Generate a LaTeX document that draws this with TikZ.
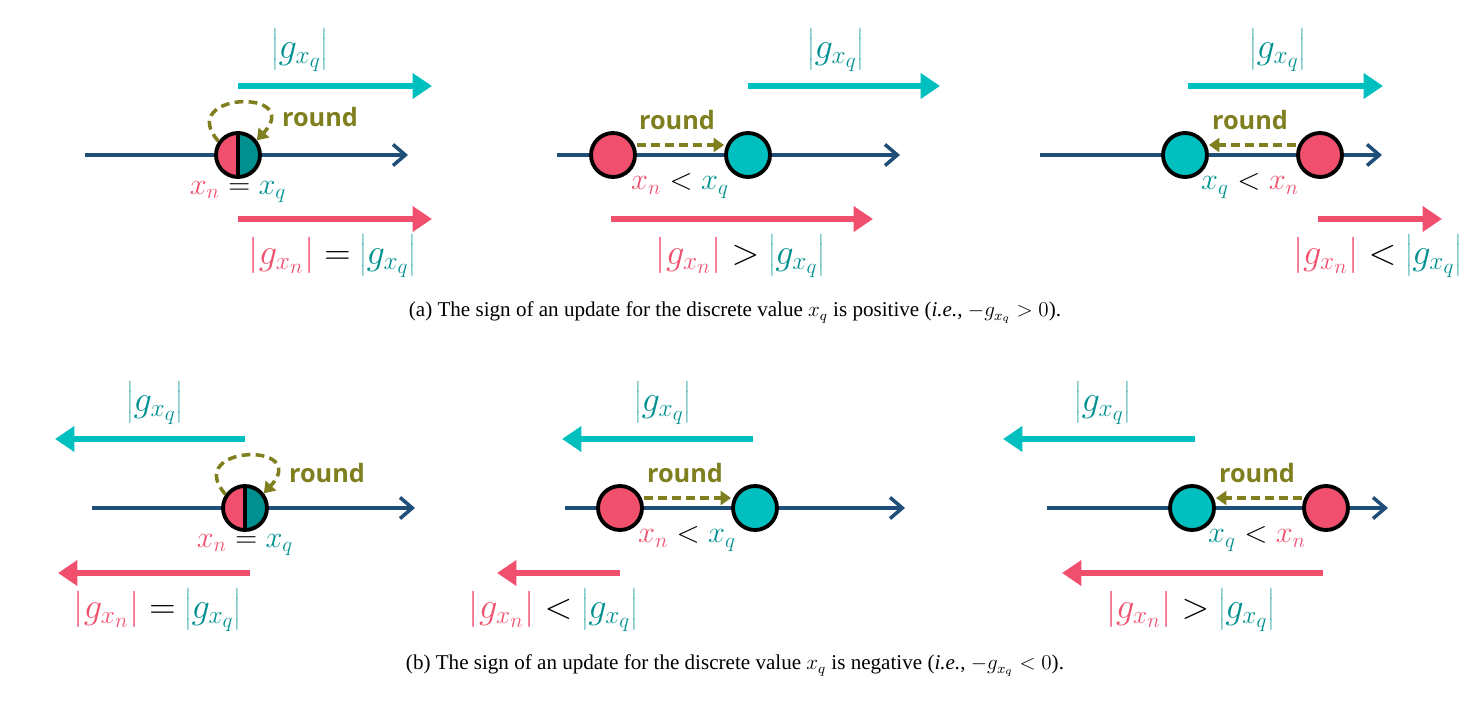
\documentclass[tikz,border=0pt]{standalone}
\usepackage{fontspec}
\setmainfont{Liberation Serif}
\newfontfamily\roundfont{Open Sans}
\usetikzlibrary{arrows.meta}
\definecolor{gred}{HTML}{F0506E}
\definecolor{gcyan}{HTML}{00BFBF}
\definecolor{gteal}{HTML}{009090}
\definecolor{gnavy}{HTML}{1F4E79}
\definecolor{golive}{HTML}{7F7F1F}
\begin{document}
\begin{tikzpicture}[x=0.02cm,y=-0.02cm,
  axis/.style={gnavy,line width=2pt,-{Straight Barb[length=7pt,width=12pt,line width=2pt]}},
  grad/.style={line width=3.4pt,-{Triangle[length=11pt,width=14pt]}},
  pt/.style={circle,draw=black,line width=2.2pt,minimum size=0.88cm,inner sep=0pt},
  redpt/.style={pt,fill=gred},
  cyanpt/.style={pt,fill=gcyan},
  halfpt/.style={pt,path picture={
      \fill[gred] (path picture bounding box.north west) rectangle (path picture bounding box.south);
      \fill[gteal] (path picture bounding box.north) rectangle (path picture bounding box.south east);
      \draw[black,line width=2pt] (path picture bounding box.north) -- (path picture bounding box.south);}},
  move/.style={golive,line width=2pt,dash pattern=on 5pt off 3pt,-{Triangle[length=6pt,width=8pt]}},
  rnd/.style={golive,font=\roundfont\bfseries\Large},
  mlab/.style={font=\LARGE},
  glab/.style={font=\huge}]
\useasboundingbox (0,0) rectangle (1473,709);

% (a) positive sign
\coordinate (a1l) at (85,155); \coordinate (a1r) at (408,155);
\draw[axis] (a1l) -- (a1r);
\node[halfpt] (a1p) at (238,155) {};
\draw[move] (a1p.145) .. controls (175,92) and (305,88) .. (a1p.38);
\node[rnd] (a1t) at (320,117) {round};
\node[mlab] (a1x) at (238,192) {$\color{gred}x_n\color{black}=\color{gteal}x_q$};
\coordinate (a1c0) at (238,86); \coordinate (a1c1) at (432,86);
\draw[grad,gcyan] (a1c0) -- (a1c1);
\node[glab] (a1g) at (300,50) {$\color{gteal}\left|g_{x_q}\right|$};
\coordinate (a1r0) at (238,219); \coordinate (a1r1) at (432,219);
\draw[grad,gred] (a1r0) -- (a1r1);
\node[glab] (a1h) at (332,256) {$\color{gred}\left|g_{x_n}\right|\color{black}=\color{gteal}\left|g_{x_q}\right|$};

\coordinate (a2l) at (557,155); \coordinate (a2r) at (900,155);
\draw[axis] (a2l) -- (a2r);
\node[redpt] (a2n) at (613,155) {};
\node[cyanpt] (a2q) at (748,155) {};
\draw[move] ([yshift=0.2cm]a2n.east) -- ([yshift=0.2cm]a2q.west);
\node[rnd] (a2t) at (677,120) {round};
\node[mlab] (a2x) at (680,186) {$\color{gred}x_n\color{black}<\color{gteal}x_q$};
\coordinate (a2c0) at (748,86); \coordinate (a2c1) at (940,86);
\draw[grad,gcyan] (a2c0) -- (a2c1);
\node[glab] (a2g) at (836,50) {$\color{gteal}\left|g_{x_q}\right|$};
\coordinate (a2r0) at (611,219); \coordinate (a2r1) at (873,219);
\draw[grad,gred] (a2r0) -- (a2r1);
\node[glab] (a2h) at (740,256) {$\color{gred}\left|g_{x_n}\right|\color{black}>\color{gteal}\left|g_{x_q}\right|$};

\coordinate (a3l) at (1040,155); \coordinate (a3r) at (1382,155);
\draw[axis] (a3l) -- (a3r);
\node[cyanpt] (a3q) at (1185,155) {};
\node[redpt] (a3n) at (1320,155) {};
\draw[move] ([yshift=0.2cm]a3n.west) -- ([yshift=0.2cm]a3q.east);
\node[rnd] (a3t) at (1250,120) {round};
\node[mlab] (a3x) at (1250,186) {$\color{gteal}x_q\color{black}<\color{gred}x_n$};
\coordinate (a3c0) at (1188,86); \coordinate (a3c1) at (1383,86);
\draw[grad,gcyan] (a3c0) -- (a3c1);
\node[glab] (a3g) at (1278,50) {$\color{gteal}\left|g_{x_q}\right|$};
\coordinate (a3r0) at (1318,219); \coordinate (a3r1) at (1442,219);
\draw[grad,gred] (a3r0) -- (a3r1);
\node[glab] (a3h) at (1377,256) {$\color{gred}\left|g_{x_n}\right|\color{black}<\color{gteal}\left|g_{x_q}\right|$};

\node[font=\large] (capa) at (735,313) {(a) The sign of an update for the discrete value $x_q$ is positive (\textit{i.e.}, $-g_{x_q}>0$).};

% (b) negative sign
\coordinate (b1l) at (92,508); \coordinate (b1r) at (415,508);
\draw[axis] (b1l) -- (b1r);
\node[halfpt] (b1p) at (245,508) {};
\draw[move] (b1p.145) .. controls (182,445) and (312,441) .. (b1p.38);
\node[rnd] (b1t) at (327,473) {round};
\node[mlab] (b1x) at (245,545) {$\color{gred}x_n\color{black}=\color{gteal}x_q$};
\coordinate (b1c0) at (245,439); \coordinate (b1c1) at (55,439);
\draw[grad,gcyan] (b1c0) -- (b1c1);
\node[glab] (b1g) at (155,403) {$\color{gteal}\left|g_{x_q}\right|$};
\coordinate (b1r0) at (250,573); \coordinate (b1r1) at (58,573);
\draw[grad,gred] (b1r0) -- (b1r1);
\node[glab] (b1h) at (157,610) {$\color{gred}\left|g_{x_n}\right|\color{black}=\color{gteal}\left|g_{x_q}\right|$};

\coordinate (b2l) at (565,508); \coordinate (b2r) at (905,508);
\draw[axis] (b2l) -- (b2r);
\node[redpt] (b2n) at (620,508) {};
\node[cyanpt] (b2q) at (755,508) {};
\draw[move] ([yshift=0.2cm]b2n.east) -- ([yshift=0.2cm]b2q.west);
\node[rnd] (b2t) at (685,473) {round};
\node[mlab] (b2x) at (687,539) {$\color{gred}x_n\color{black}<\color{gteal}x_q$};
\coordinate (b2c0) at (753,439); \coordinate (b2c1) at (562,439);
\draw[grad,gcyan] (b2c0) -- (b2c1);
\node[glab] (b2g) at (663,403) {$\color{gteal}\left|g_{x_q}\right|$};
\coordinate (b2r0) at (620,573); \coordinate (b2r1) at (497,573);
\draw[grad,gred] (b2r0) -- (b2r1);
\node[glab] (b2h) at (553,610) {$\color{gred}\left|g_{x_n}\right|\color{black}<\color{gteal}\left|g_{x_q}\right|$};

\coordinate (b3l) at (1047,508); \coordinate (b3r) at (1388,508);
\draw[axis] (b3l) -- (b3r);
\node[cyanpt] (b3q) at (1192,508) {};
\node[redpt] (b3n) at (1326,508) {};
\draw[move] ([yshift=0.2cm]b3n.west) -- ([yshift=0.2cm]b3q.east);
\node[rnd] (b3t) at (1257,473) {round};
\node[mlab] (b3x) at (1257,539) {$\color{gteal}x_q\color{black}<\color{gred}x_n$};
\coordinate (b3c0) at (1195,439); \coordinate (b3c1) at (1003,439);
\draw[grad,gcyan] (b3c0) -- (b3c1);
\node[glab] (b3g) at (1103,403) {$\color{gteal}\left|g_{x_q}\right|$};
\coordinate (b3r0) at (1323,573); \coordinate (b3r1) at (1062,573);
\draw[grad,gred] (b3r0) -- (b3r1);
\node[glab] (b3h) at (1190,610) {$\color{gred}\left|g_{x_n}\right|\color{black}>\color{gteal}\left|g_{x_q}\right|$};

\node[font=\large] (capb) at (735,666) {(b) The sign of an update for the discrete value $x_q$ is negative (\textit{i.e.}, $-g_{x_q}<0$).};
\end{tikzpicture}
\end{document}
